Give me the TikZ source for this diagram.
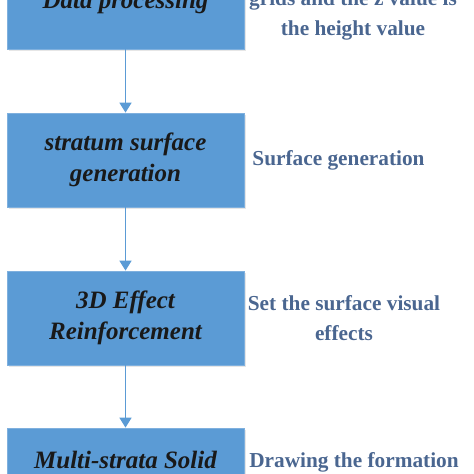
\documentclass[tikz,border=0pt]{standalone}
\usepackage{fontspec}
\setmainfont{Liberation Serif}
\usetikzlibrary{shadows,arrows.meta}
\definecolor{boxblue}{HTML}{5B9BD5}
\definecolor{boxedge}{HTML}{7FB0DE}
\definecolor{notegray}{HTML}{4A6690}
\begin{document}
\begin{tikzpicture}[x=1pt,y=-1pt,
  stepbox/.style={draw=boxedge,line width=0.8pt,fill=boxblue,minimum width=237pt,minimum height=94pt,inner sep=0pt,align=center,
    font=\fontsize{25pt}{31pt}\selectfont\bfseries\itshape,text=black!90,
    drop shadow={shadow xshift=1.5pt,shadow yshift=-2pt,opacity=0.2}},
  note/.style={align=center,font=\fontsize{21.3pt}{30pt}\selectfont\bfseries,text=notegray},
  flow/.style={draw=boxblue,line width=1.8pt,-{Triangle[width=12pt,length=10pt]}}]
\newcommand\boxx{125.5}
\useasboundingbox (0,0) rectangle (474,474);
\clip (0,0) rectangle (474,474);

% steps
\node[stepbox] (data) at (\boxx,2) {Data processing};
\node[stepbox] (surf) at (\boxx,160) {stratum surface\\generation};
\node[stepbox] (effect) at (\boxx,318) {3D Effect\\Reinforcement};
\node[stepbox] (solid) at (\boxx,475) {Multi-strata Solid\\~};

% notes on the right
\node[note] (datanote) at (353,15.5) {grids and the z value is\\the height value};
\node[note] (surfnote) at (338.5,160) {Surface generation};
\node[note] (effectnote) at (344,318) {Set the surface visual\\effects};
\node[note] (solidnote) at (354,475) {Drawing the formation\\~};

\foreach \a/\b in {data/surf,surf/effect,effect/solid} {
    \draw[flow] (\a) -- (\b);
}
\end{tikzpicture}
\end{document}
